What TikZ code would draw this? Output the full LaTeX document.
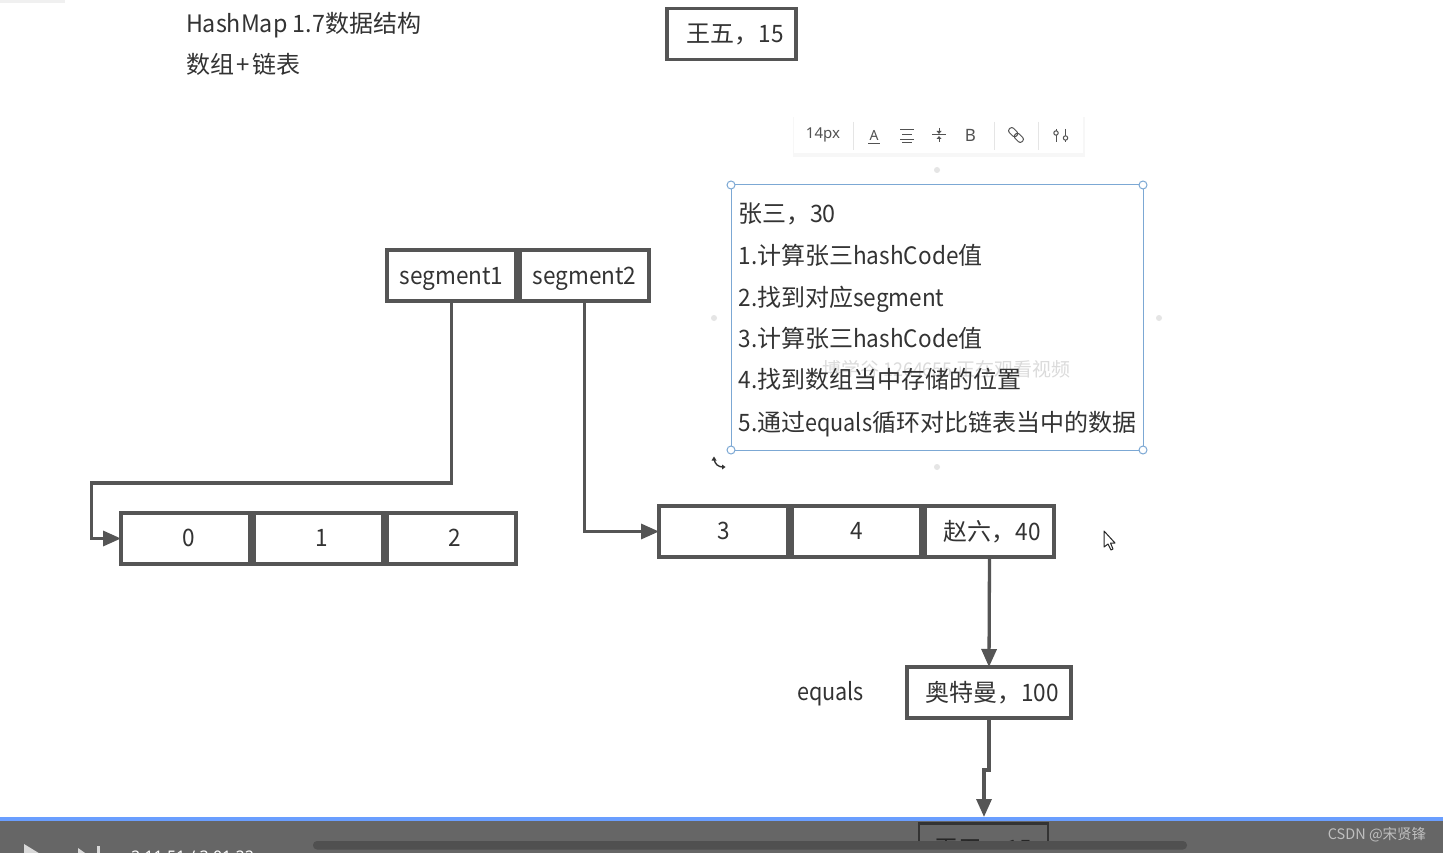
\documentclass[tikz,border=0pt]{standalone}
\usepackage{fontspec}
\setmainfont{Noto Sans CJK SC}
\newfontfamily\uifont{Noto Sans}
\newfontfamily\latn[FakeStretch=0.94]{Noto Sans CJK SC}
\newfontfamily\latw[FakeStretch=0.97]{Noto Sans CJK SC}
\newfontfamily\latq[FakeStretch=0.90]{Noto Sans CJK SC}
\newcommand{\lat}[1]{{\latn #1}}
\newcommand{\law}[1]{{\latw #1}}
\usetikzlibrary{arrows.meta}
\definecolor{ink}{HTML}{333333}
\definecolor{stroke}{HTML}{555555}
\definecolor{selblue}{HTML}{7CA8D4}
\definecolor{barblue}{HTML}{6A9EFF}
\definecolor{bargray}{HTML}{666666}
\definecolor{scrollgray}{HTML}{505050}
\tikzset{
  x=1pt,y=-1pt,
  box/.style={draw=stroke,line width=3.3pt,rectangle,minimum height=51pt,minimum width=129pt,inner sep=0pt,outer sep=0pt,
    font=\fontsize{24}{24}\selectfont,text=ink,text height=20pt,text depth=3pt},
  plain/.style={inner sep=0pt,outer sep=0pt,anchor=base west,font=\fontsize{24}{24}\selectfont,text=ink},
  link/.style={draw=stroke,line width=3.3pt,-{Triangle[length=18pt,width=15pt]}},
  icon/.style={draw=ink!85,line width=1pt},
  handle/.style={circle,draw=selblue,fill=white,line width=1pt,minimum size=8pt,inner sep=0pt},
  faint/.style={circle,fill=black!10,minimum size=6pt,inner sep=0pt},
}
\begin{document}
\begin{tikzpicture}
\useasboundingbox (0,0) rectangle (1443,853);
\fill[white] (0,0) rectangle (1443,853);
\fill[black!6] (0,0) rectangle (65,3);

% titles
\node[plain] (title1) at (186,33) {\law{HashMap 1.7}数据结构};
\node[plain] (title2) at (186,74) {数组\hspace{2.5pt}+\hspace{2.5pt}链表};

% top box
\node[box] (wangwu) at (731.5,34) {\hspace*{7pt}王五，\lat{15}};

% toolbar
\fill[black!3] (793,117) rectangle (1085,157);
\node[fill=white,minimum width=289pt,minimum height=36pt,inner sep=0pt] (toolbar) at (938,135.5) {};
\node[inner sep=0pt,text=ink!85,font=\uifont\fontsize{15}{15}\selectfont] (tbsize) at (823,135) {14px};
\node[inner sep=0pt,text=ink!85,font=\uifont\fontsize{14}{14}\selectfont] (tba) at (874,135) {A};
\draw[icon] (868,143.5) -- (880,143.5);
\draw[icon] (900,130) -- (914,130) (902,135) -- (912,135) (900,140) -- (914,140) (902,143) -- (912,143);
\draw[icon] (932,135) -- (946,135) (939,128) -- (939,132) (939,138) -- (939,142);
\fill[ink!85] (936.5,131) -- (941.5,131) -- (939,134) -- cycle (936.5,139) -- (941.5,139) -- (939,136) -- cycle;
\node[inner sep=0pt,text=ink!85,font=\uifont\fontsize{17}{17}\selectfont] (tbb) at (970.5,135) {B};
\draw[icon,rounded corners=2.5pt,rotate around={-45:(1016,135)}] (1007,132) rectangle (1017,138) (1015,132) rectangle (1025,138);
\draw[icon] (1056,129) -- (1056,142) (1065.5,129) -- (1065.5,142);
\draw[icon,fill=white] (1056,133) circle (2.2pt) (1065.5,138) circle (2.2pt);
\draw[black!10,line width=.7pt] (853,122) -- (853,150) (994,122) -- (994,150) (1038,122) -- (1038,150);

% faint handles
\node[faint] (f1) at (937,170) {};
\node[faint] (f2) at (714,318) {};
\node[faint] (f3) at (1159,318) {};
\node[faint] (f4) at (937,467) {};

% watermark
\node[inner sep=0pt,outer sep=0pt,anchor=base west,text=black!14,font=\fontsize{19}{19}\selectfont] (wm) at (822,376) {博学谷 \lat{1264655} 正在观看视频};

% note
\draw[selblue,line width=1pt] (731,185) rectangle (1143,450);
\node[handle] (h1) at (731,185) {};
\node[handle] (h2) at (1143,185) {};
\node[handle] (h3) at (731,450) {};
\node[handle] (h4) at (1143,450) {};
\node[plain] (n0) at (738,223) {张三，\law{30}};
\node[plain] (n1) at (738.5,264) {\lat{1.}计算张三\lat{hashCode}值};
\node[plain] (n2) at (738.5,306) {\lat{2.}找到对应\lat{segment}};
\node[plain] (n3) at (738.5,347) {\lat{3.}计算张三\lat{hashCode}值};
\node[plain] (n4) at (738.5,388) {\lat{4.}找到数组当中存储的位置};
\node[plain] (n5) at (738.5,431) {\lat{5.}通过{\latq equals}循环对比链表当中的数据};

% rotate icon
\draw[ink,line width=1.4pt] (714,459) .. controls (715,464) and (718,467) .. (723,467);
\fill[ink] (711.5,460.5) -- (714,456.5) -- (716.5,460.5) -- cycle (722,464.5) -- (725.5,467) -- (722,469.5) -- cycle;

% segments
\node[box] (seg1) at (451.5,275.5) {\lat{segment1}};
\node[box] (seg2) at (584.5,275.5) {\lat{segment2}};

% arrays
\node[box] (c0) at (185.5,538.5) {\hspace*{6pt}\raisebox{.7pt}{\lat{0}}};
\node[box] (c1) at (318.5,538.5) {\hspace*{7pt}\raisebox{.7pt}{\lat{1}}};
\node[box] (c2) at (451.5,538.5) {\hspace*{7pt}\raisebox{.7pt}{\lat{2}}};
\node[box] (c3) at (723.5,531.5) {\raisebox{.7pt}{\lat{3}}};
\node[box] (c4) at (856.5,531.5) {\raisebox{.7pt}{\lat{4}}};
\node[box] (c5) at (989.5,531.5) {\hspace*{5pt}赵六，\lat{40}};

\node[box,minimum width=164pt] (ao) at (989,692.5) {\hspace*{6pt}奥特曼，\lat{100}};
\node[plain,anchor=center,text height=20pt,text depth=3pt] (eq) at (830.5,692) {{\latq equals}};

% bottom bar
\fill[bargray] (0,821) rectangle (1443,853);
\fill[barblue] (0,817) rectangle (1443,821);
\begin{scope}
\clip (0,821) rectangle (1443,841);
\node[box,draw=black!80,line width=2.6pt,text=black!85] (wang2) at (983.5,849) {王五，\lat{15}};
\end{scope}
\begin{scope}
\clip (0,821) rectangle (1443,853);
\fill[black!15] (24,844) -- (42,855) -- (24,860) -- cycle;
\fill[black!15] (78,848) -- (95,860) -- (78,860) -- cycle;
\fill[black!15] (97,846) rectangle (100,860);
\node[inner sep=0pt,outer sep=0pt,anchor=base west,text=white,font=\uifont\bfseries\fontsize{16}{16}\selectfont] (time) at (131,862.5) {2:11:51 / 3:01:22};
\end{scope}
\fill[scrollgray,rounded corners=4pt] (313,841) rectangle (1187,849.5);
\node[inner sep=0pt,text=black!25,font=\fontsize{14.5}{14.5}\selectfont] (csdn) at (1377,835) {CSDN @宋贤锋};

% connectors
\coordinate (m1) at (91.5,483);
\coordinate (m2) at (91.5,538.5);
\draw[link] (seg1.south) |- (m1) -- (m2) -- (c0.west);
\draw[link] (seg2.south) |- (c3.west);
\draw[link] (c5.south) -- (ao.north);
\coordinate (k1) at (989,770);
\coordinate (k2) at (984,770);
\coordinate (k3) at (984,817);
\draw[link] (ao.south) -- (k1) -- (k2) -- (k3);

% mouse cursor
\draw[black!85,fill=white,line width=1pt,line join=round] (1104,531) -- (1104,547) -- (1108,544) -- (1111,550) -- (1113,549) -- (1110.5,543) -- (1115,543) -- cycle;
\end{tikzpicture}
\end{document}
